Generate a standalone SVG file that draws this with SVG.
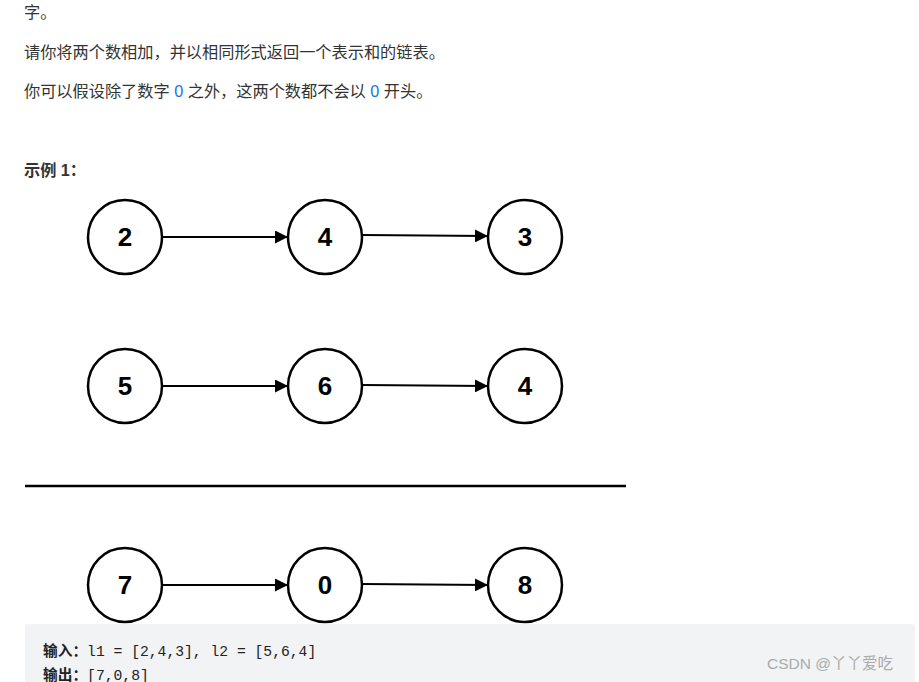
<svg xmlns="http://www.w3.org/2000/svg" width="919" height="682" viewBox="0 0 919 682">
<style>
.t{font-family:"Liberation Sans","Noto Sans CJK SC",sans-serif;font-size:16.2px;fill:#333}
.n circle{fill:#fff;stroke:#000;stroke-width:2.5}
.n text{font-family:"Liberation Sans",Arial,sans-serif;font-size:26px;font-weight:bold;text-anchor:middle;fill:#000}
.c line{stroke:#000;stroke-width:2;marker-end:url(#a)}
.m{font-family:"Liberation Mono","Noto Sans CJK SC",monospace;font-size:14.7px;fill:#222}
</style>
<defs><marker id="a" viewBox="0 0 10 10" refX="10" refY="5" markerWidth="6.5" markerHeight="6.5" orient="auto" markerUnits="strokeWidth"><path d="M0,0L10,5L0,10z" fill="#000"/></marker></defs>
<rect width="919" height="682" fill="#fff"/>
<text class="t" x="24" y="18">字。</text>
<text class="t" x="24" y="58">请你将两个数相加，并以相同形式返回一个表示和的链表。</text>
<text class="t" x="24" y="97">你可以假设除了数字 <tspan fill="#1a73e8">0</tspan> 之外，这两个数都不会以 <tspan fill="#1a73e8">0</tspan> 开头。</text>
<text class="t" x="24" y="176" font-weight="bold">示例 1：</text>
<g class="c">
<line x1="162" y1="237" x2="288" y2="237"/><line x1="362" y1="235" x2="488" y2="236"/>
<line x1="162" y1="386" x2="288" y2="386"/><line x1="362" y1="385" x2="488" y2="386"/>
<line x1="162" y1="585" x2="288" y2="585"/><line x1="362" y1="584" x2="488" y2="585"/>
</g>
<line x1="25" y1="486" x2="626" y2="486" stroke="#000" stroke-width="2.5"/>
<g id="n1" class="n"><circle cx="125" cy="237" r="37"/><text x="125" y="246">2</text></g>
<g id="n2" class="n"><circle cx="325" cy="237" r="37"/><text x="325" y="246">4</text></g>
<g id="n3" class="n"><circle cx="525" cy="237" r="37"/><text x="525" y="246">3</text></g>
<g id="n4" class="n"><circle cx="125" cy="386" r="37"/><text x="125" y="395">5</text></g>
<g id="n5" class="n"><circle cx="325" cy="386" r="37"/><text x="325" y="395">6</text></g>
<g id="n6" class="n"><circle cx="525" cy="386" r="37"/><text x="525" y="395">4</text></g>
<g id="n7" class="n"><circle cx="125" cy="585" r="37"/><text x="125" y="594">7</text></g>
<g id="n8" class="n"><circle cx="325" cy="585" r="37"/><text x="325" y="594">0</text></g>
<g id="n9" class="n"><circle cx="525" cy="585" r="37"/><text x="525" y="594">8</text></g>
<rect x="25" y="624" width="890" height="70" rx="3" fill="#f2f3f5"/>
<text class="m" x="43" y="656"><tspan font-weight="bold" font-family="Noto Sans CJK SC,sans-serif">输入：</tspan>l1 = [2,4,3], l2 = [5,6,4]</text>
<text class="m" x="43" y="680"><tspan font-weight="bold" font-family="Noto Sans CJK SC,sans-serif">输出：</tspan>[7,0,8]</text>
<text x="767" y="669" font-family="Liberation Sans,Noto Sans CJK SC,sans-serif" font-size="15.5" fill="#aaa">CSDN @丫丫爱吃</text>
</svg>
